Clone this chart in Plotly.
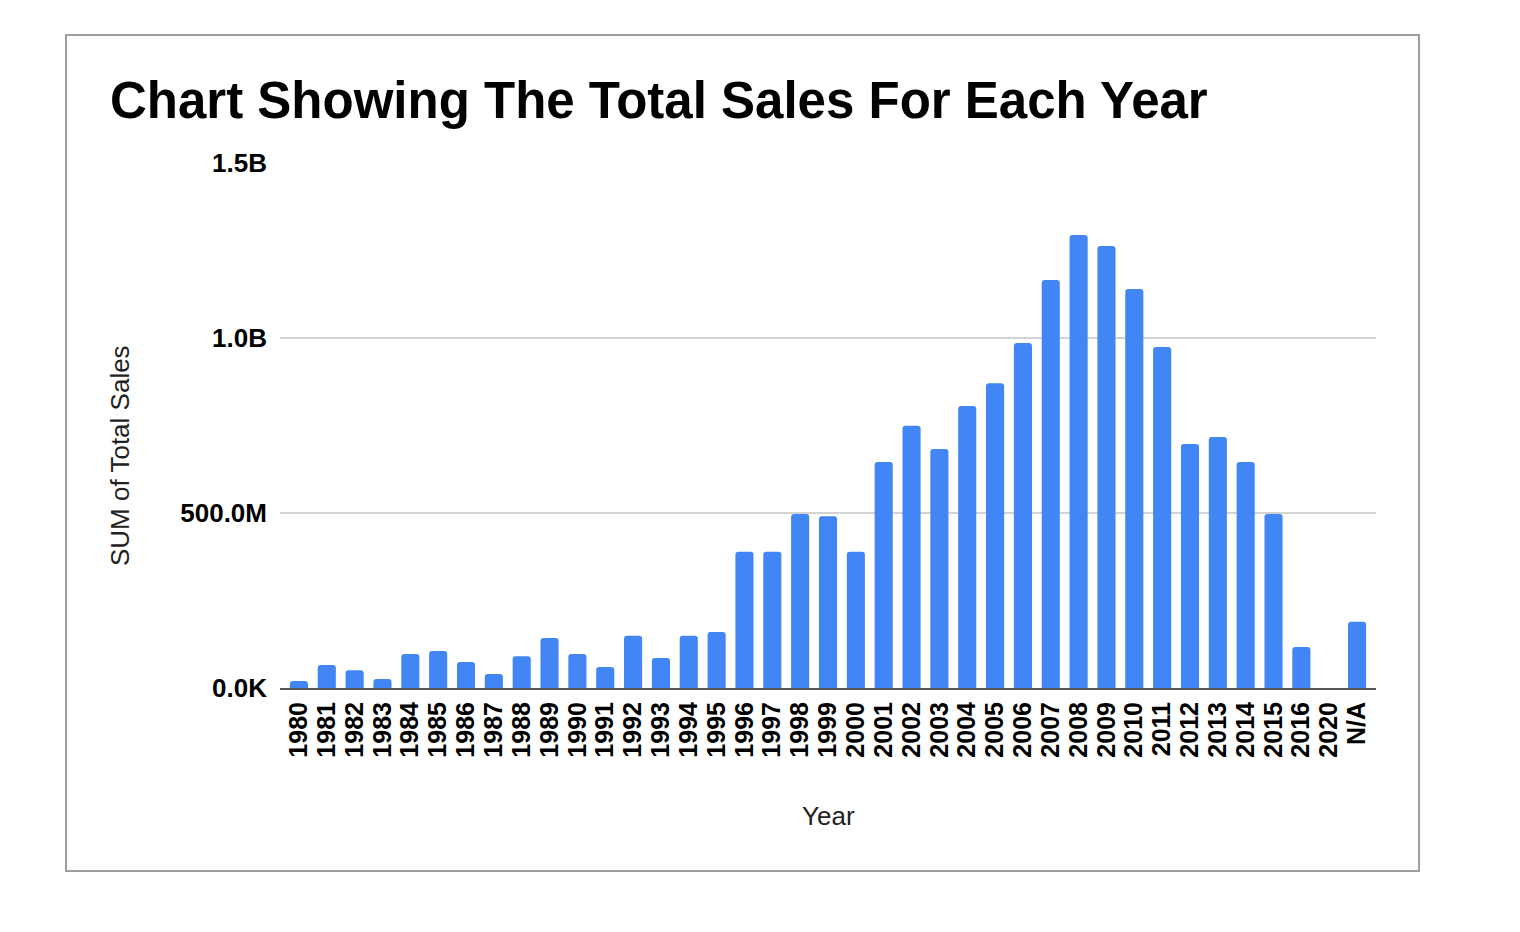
import plotly.graph_objects as go

years = ["1980", "1981", "1982", "1983", "1984", "1985", "1986", "1987", "1988", "1989",
         "1990", "1991", "1992", "1993", "1994", "1995", "1996", "1997", "1998", "1999",
         "2000", "2001", "2002", "2003", "2004", "2005", "2006", "2007", "2008", "2009",
         "2010", "2011", "2012", "2013", "2014", "2015", "2016", "2020", "N/A"]
sales_millions = [20, 66, 51, 26, 97, 106, 74, 40, 91, 143,
                  97, 60, 149, 86, 149, 160, 389, 389, 497, 491,
                  389, 646, 749, 683, 806, 871, 986, 1166, 1294, 1263,
                  1140, 974, 697, 717, 646, 497, 117, 0, 189]
sales = [v * 1e6 for v in sales_millions]

y_tickvals = [0, 5e8, 1e9, 1.5e9]
y_ticktext = ["0.0K", "500.0M", "1.0B", "1.5B"]

OFF = 8  # page body margin
W, H = 1504, 916
L, R, T, B = 280 - OFF, 1376 - OFF, 163 - OFF, 688 - OFF
pw, ph = R - L, B - T

def px_x(x):
    return (x - OFF - L) / pw

def px_y(y):
    return (B - (y - OFF)) / ph

FONT = "Liberation Sans, Arial, sans-serif"

fig = go.Figure()
fig.add_trace(go.Bar(
    x=years, y=sales,
    marker=dict(color="#4285F4", cornerradius=3, line=dict(width=0)),
    hoverinfo="x+y",
))

fig.update_layout(
    width=W, height=H,
    margin=dict(l=L, r=W - R, t=T, b=H - B, pad=0),
    paper_bgcolor="white", plot_bgcolor="white",
    showlegend=False,
    bargap=0.35,
    font=dict(family=FONT, color="#000000"),
    title=dict(
        text="<b>Chart Showing The Total Sales For Each Year</b>",
        font=dict(size=51, color="#000000", family=FONT),
        x=(110 - OFF) / W, xanchor="left", xref="container",
        y=1 - (100 - OFF) / H, yanchor="middle", yref="container",
    ),
    xaxis=dict(
        type="category",
        tickmode="array", tickvals=years, ticktext=years,
        tickangle=-90,
        tickfont=dict(size=25, color="#000000", family=FONT, weight="bold"),
        showline=True, linecolor="#555555", linewidth=2,
        showgrid=False, ticks="", ticklabelstandoff=2,
        range=[-0.68, len(years) - 0.32],
    ),
    yaxis=dict(
        range=[0, 1.5e9],
        tickvals=y_tickvals, ticktext=y_ticktext,
        tickfont=dict(size=26, color="#000000", family=FONT, weight="bold"),
        showgrid=True, gridcolor="#d3d3d3", gridwidth=2,
        zeroline=False, showline=False, ticks="", ticklabelstandoff=12,
    ),
    annotations=[
        dict(text="SUM of Total Sales", x=px_x(120), y=px_y(456), xref="paper", yref="paper",
             textangle=-90, showarrow=False, xanchor="center", yanchor="middle",
             font=dict(size=26, color="#222222", family=FONT)),
        dict(text="Year", x=px_x(828), y=px_y(816), xref="paper", yref="paper",
             showarrow=False, xanchor="center", yanchor="middle",
             font=dict(size=26, color="#222222", family=FONT)),
    ],
    shapes=[
        dict(type="rect", xref="paper", yref="paper",
             x0=px_x(66), x1=px_x(1419), y0=px_y(871), y1=px_y(35),
             line=dict(color="#9e9e9e", width=2), fillcolor="rgba(0,0,0,0)", layer="below"),
    ],
)

fig.write_html("out.html")
